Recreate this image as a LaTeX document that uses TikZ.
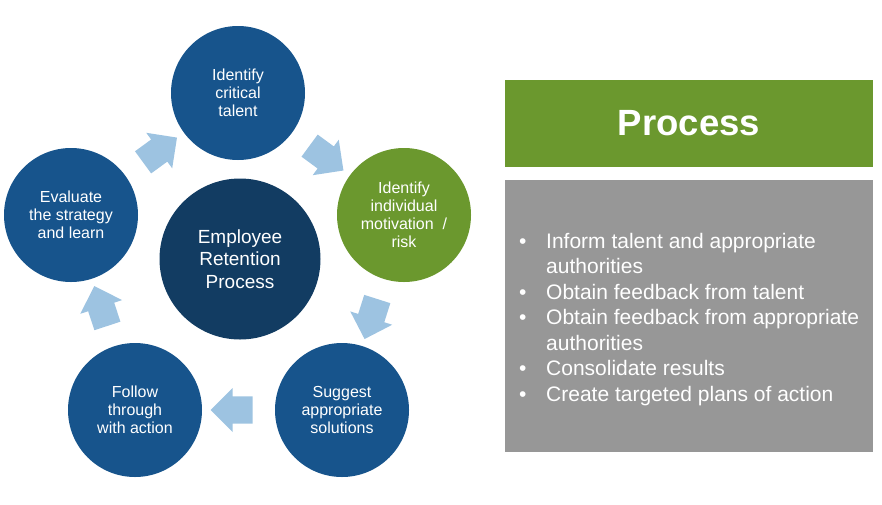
\documentclass[tikz,border=0pt]{standalone}
\usepackage{fontspec}
\setmainfont{Liberation Sans}
\usepackage{tikz}
\usetikzlibrary{positioning, shapes.arrows}
\definecolor{stepblue}{RGB}{23,84,140}
\definecolor{corenavy}{RGB}{18,60,98}
\definecolor{leafgreen}{RGB}{107,152,46}
\definecolor{panelgrey}{RGB}{151,151,151}
\definecolor{flowblue}{RGB}{157,195,225}

\begin{document}
\begin{tikzpicture}[
        x=1pt, y=-1pt,
        every node/.style={font=\fontsize{16}{18}\selectfont, text=white},
        stage/.style={circle, fill=stepblue, minimum size=134pt, inner sep=0pt, align=center},
        core/.style={circle, fill=corenavy, minimum size=161pt, inner sep=0pt, align=center, font=\fontsize{19}{22.5}\selectfont},
        flow/.style={single arrow, fill=flowblue, sloped, allow upside down, minimum height=42pt, minimum width=44pt, single arrow head extend=8pt, inner xsep=0pt, inner ysep=13pt},
        header/.style={rectangle, fill=leafgreen, minimum width=368pt, minimum height=87pt, font=\fontsize{36.5}{40}\selectfont\bfseries},
        panel/.style={rectangle, fill=panelgrey, minimum width=368pt, minimum height=272pt}
    ]
        \path[use as bounding box] (0,0) rectangle (882,504);

        % Nodes
        \node[core] (core) at (240,259) {Employee\\Retention\\Process};
        \node[stage] (talent) at (238,93) {Identify\\critical\\talent};
        \node[stage, fill=leafgreen] (risk) at (404,215) {Identify\\individual\\motivation~~/\\risk};
        \node[stage] (suggest) at (342,410) {Suggest\\appropriate\\solutions};
        \node[stage] (follow) at (135,410) {Follow\\through\\with action};
        \node[stage] (evaluate) at (71,215) {Evaluate\\the strategy\\and learn};

        % Connections
        \path (evaluate) -- node[flow] (f1) {} (talent);
        \path (talent) -- node[flow] (f2) {} (risk);
        \path (risk) -- node[flow] (f3) {} (suggest);
        \path (suggest) -- node[flow] (f4) {} (follow);
        \path (follow) -- node[flow] (f5) {} (evaluate);

        % Process panel
        \node[header] (title) at (689,123.5) {Process};
        \node[panel] (steps) at (689,316) {};
        \node[anchor=base west, inner sep=0pt, font=\fontsize{21}{25.5}\selectfont] (items) at (519,248) {%
            \begin{tabular}[t]{@{}p{27pt}@{}l@{}}
                \textbullet & Inform talent and appropriate\\
                            & authorities\\
                \textbullet & Obtain feedback from talent\\
                \textbullet & Obtain feedback from appropriate\\
                            & authorities\\
                \textbullet & Consolidate results\\
                \textbullet & Create targeted plans of action
            \end{tabular}};
    \end{tikzpicture}
\end{document}
